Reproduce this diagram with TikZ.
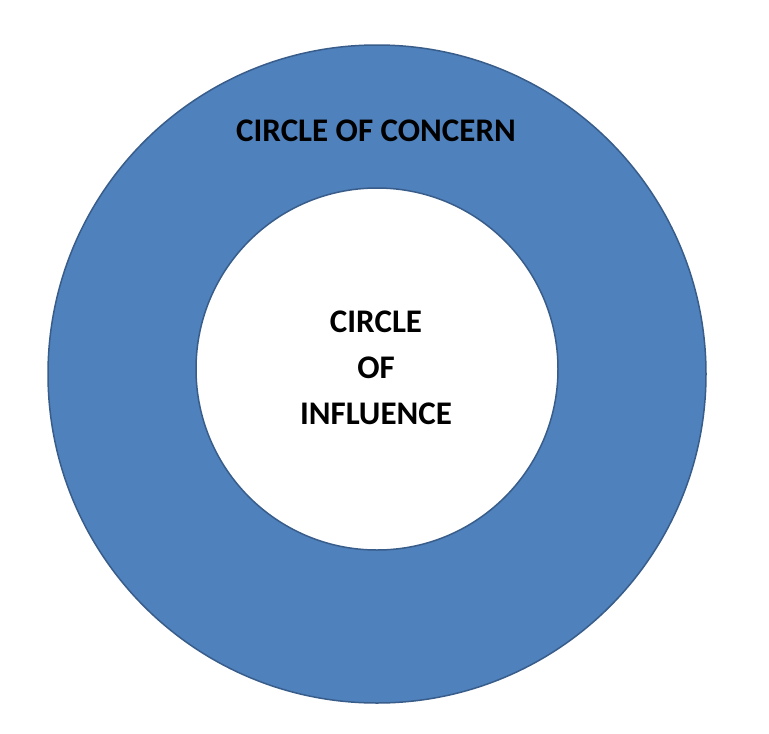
\documentclass[tikz,border=0pt]{standalone}
\usepackage{fontspec}
\setmainfont{Carlito}
\definecolor{fillblue}{HTML}{4F81BD}
\definecolor{edgeblue}{HTML}{385D8A}
\begin{document}
\begin{tikzpicture}[x=1pt,y=-1pt,
  ring/.style={draw=edgeblue,line width=1.5pt},
  lbl/.style={font=\bfseries\fontsize{33}{46}\selectfont,align=center,text=black}]
\useasboundingbox (0,0) rectangle (769,734);
\fill[white] (0,0) rectangle (769,734);
\node[ring,circle,fill=fillblue,minimum size=658pt,inner sep=0pt] (outer) at (377,374) {};
\node[ring,circle,fill=white,minimum size=362pt,inner sep=0pt] (inner) at (377,369) {};
\node[lbl] (concern) at (376,131) {CIRCLE OF CONCERN};
\node[lbl] (influence) at (376,368) {CIRCLE\\OF\\INFLUENCE};
\end{tikzpicture}
\end{document}
